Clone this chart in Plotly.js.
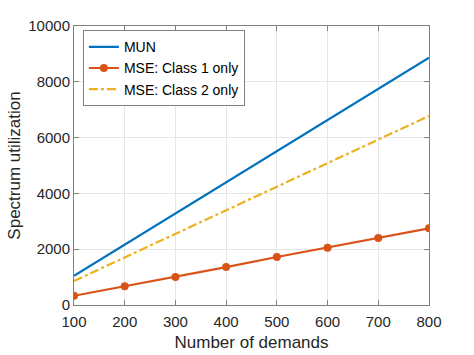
<!DOCTYPE html>
<html>
<head>
<meta charset="utf-8">
<script src="https://cdn.plot.ly/plotly-3.0.1.min.js"></script>
<style>html,body{margin:0;padding:0;background:#fff;}#chart{width:474px;height:355px;}</style>
</head>
<body>
<div id="chart"></div>
<script>
const demands = [100, 200, 300, 400, 500, 600, 700, 800];
const munValues = [1050, 2165, 3280, 4395, 5510, 6625, 7745, 8860];
const class1Values = [330, 670, 1005, 1360, 1720, 2055, 2400, 2750];
const class2Values = [860, 1705, 2550, 3395, 4240, 5085, 5930, 6775];
const xTicks = [100, 200, 300, 400, 500, 600, 700, 800];
const yTicks = [0, 2000, 4000, 6000, 8000, 10000];

const FONT = 'Liberation Sans, Arial, sans-serif';

const traces = [
  {x: demands, y: munValues, name: 'MUN', mode: 'lines',
   line: {color: '#0072BD', width: 2.2}},
  {x: demands, y: class1Values, name: 'MSE: Class 1 only', mode: 'lines+markers',
   line: {color: '#D95319', width: 2.2}, marker: {color: '#D95319', size: 8}},
  {x: demands, y: class2Values, name: 'MSE: Class 2 only', mode: 'lines',
   line: {color: '#EDB120', width: 2.2, dash: 'dashdot'}}
];

const axisCommon = {
  showline: true, mirror: 'ticks', linecolor: '#808080', linewidth: 1,
  ticks: 'inside', ticklen: 5, tickcolor: '#808080',
  showgrid: true, gridcolor: '#e6e6e6', gridwidth: 1, zeroline: false,
  tickfont: {family: FONT, size: 15, color: '#262626'}
};

const layout = {
  width: 474, height: 355,
  margin: {l: 74, r: 45, t: 26, b: 50},
  paper_bgcolor: '#fff', plot_bgcolor: '#fff',
  showlegend: true,
  xaxis: Object.assign({}, axisCommon, {
    range: [100, 800], tickvals: xTicks, ticktext: xTicks.map(String),
    ticklabelstandoff: 3,
    title: {text: 'Number of demands', standoff: 7,
      font: {family: FONT, size: 17, color: '#262626'}}
  }),
  yaxis: Object.assign({}, axisCommon, {
    range: [0, 10000], tickvals: yTicks, ticktext: yTicks.map(String),
    title: {text: 'Spectrum utilization', standoff: 3,
      font: {family: FONT, size: 17, color: '#262626'}}
  }),
  legend: {
    x: 0.025, y: 0.985, xanchor: 'left', yanchor: 'top',
    bgcolor: '#fff', bordercolor: '#808080', borderwidth: 1,
    font: {family: FONT, size: 14, color: '#000'},
    tracegroupgap: 0, itemwidth: 30
  }
};

Plotly.newPlot('chart', traces, layout, {displayModeBar: false, staticPlot: true});
</script>
</body>
</html>
